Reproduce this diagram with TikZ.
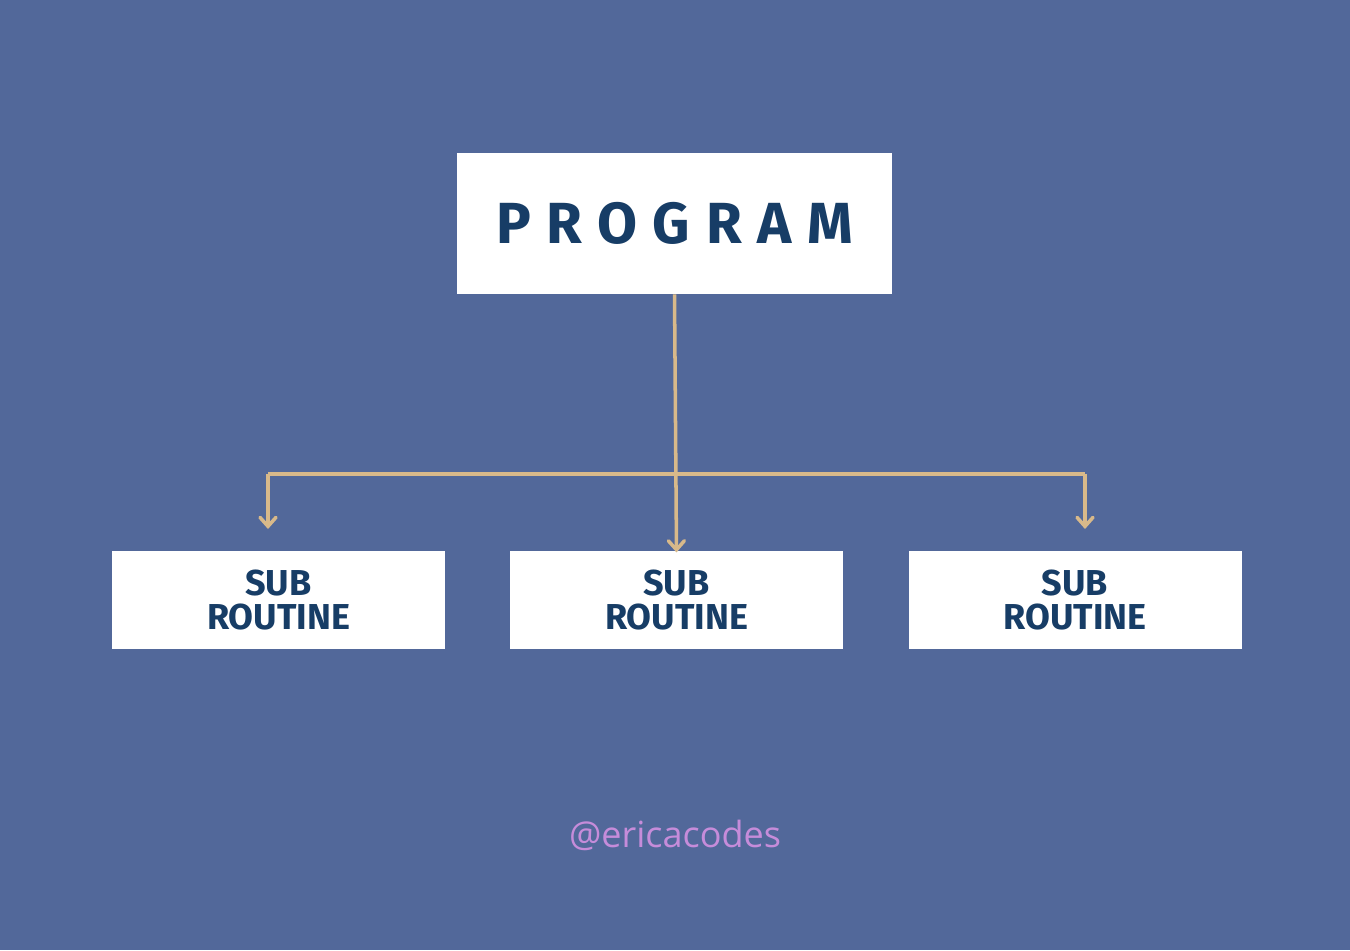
\documentclass[tikz,border=0pt]{standalone}
\usepackage{fontspec}
\setmainfont{Fira Sans}
\newfontfamily\tagfont{Open Sans}
\usepackage{xcolor}
\usepackage{tikz}
\usetikzlibrary{
  arrows.meta,
  positioning
}
\definecolor{bgblue}{HTML}{52689A}
\definecolor{navy}{HTML}{173D66}
\definecolor{tan}{HTML}{D8B98A}
\definecolor{lilac}{HTML}{C68CDA}

\begin{document}
\begin{tikzpicture}[
  every text node part/.style={align=center},
  topbox/.style={rectangle,draw=none,fill=white,minimum width=8.7cm,minimum height=2.82cm,
    text=navy,font=\bfseries\fontsize{33}{36}\selectfont\addfontfeature{LetterSpace=27}},
  subbox/.style={rectangle,draw=none,fill=white,minimum width=6.66cm,minimum height=1.96cm,
    text=navy,font=\bfseries\fontsize{20.5}{18.8}\selectfont},
  link/.style={draw=tan,line width=2pt},
  arr/.style={link,-{Straight Barb[length=1.8mm,width=3.2mm,line cap=round]}}
]
  \fill[bgblue] (0,0) rectangle (27,-19);
  \useasboundingbox (0,0) rectangle (27,-19);

  \node[topbox] (0) at (13.49,-4.47) {PROGRAM};
  \node[subbox] (1) at (5.57,-12.0) {SUB\\ROUTINE};
  \node[subbox] (2) at (13.53,-12.0) {SUB\\ROUTINE};
  \node[subbox] (3) at (21.5,-12.0) {SUB\\ROUTINE};

  \coordinate (4) at (5.36,-9.48);
  \coordinate (5) at (21.7,-9.48);
  \coordinate (6) at (5.36,-10.58);
  \coordinate (7) at (21.7,-10.58);

  \draw[link] (4) -- (5);
  \draw[arr] (0.south) -- ([yshift=-1pt]2.north);
  \draw[arr] (4) -- (6);
  \draw[arr] (5) -- (7);

  \node[text=lilac,font=\tagfont\fontsize{20.5}{24}\selectfont] (8) at (13.5,-16.7) {@ericacodes};
\end{tikzpicture}
\end{document}
